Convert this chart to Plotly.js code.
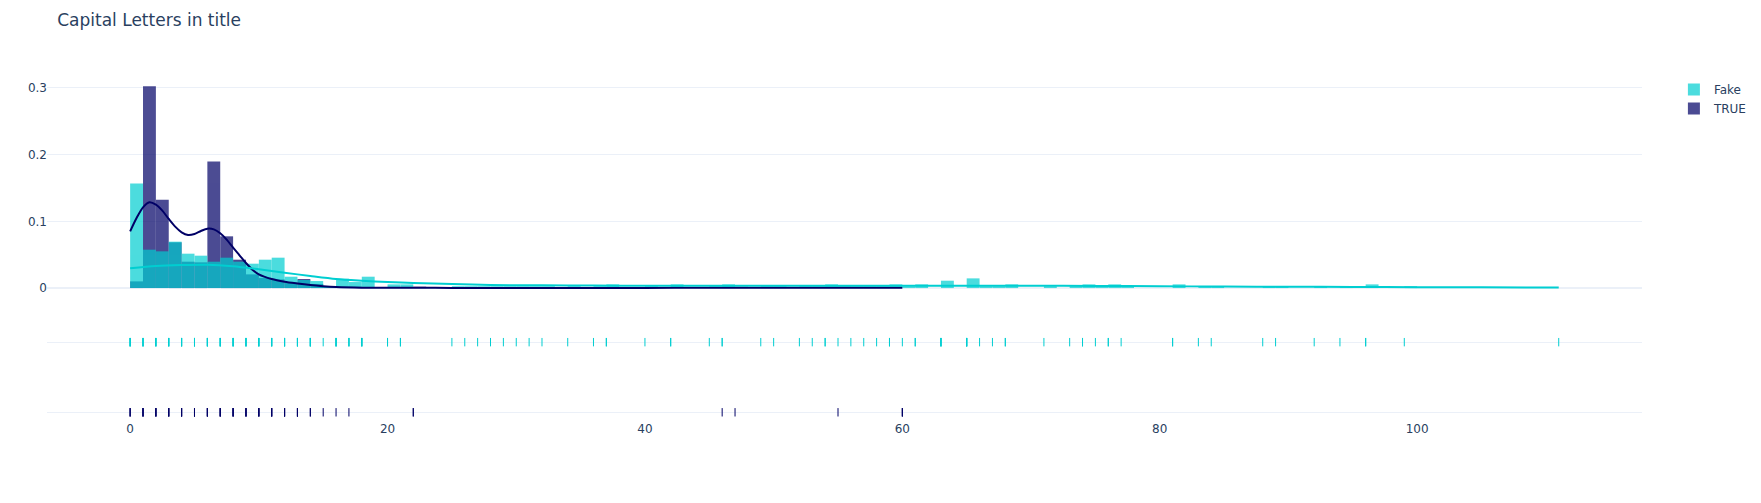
<!DOCTYPE html>
<html>
<head>
<meta charset="utf-8">
<script src="https://cdn.plot.ly/plotly-3.0.1.min.js"></script>
<style>html,body{margin:0;padding:0;background:#fff;}#chart{width:1761px;height:503px;}</style>
</head>
<body>
<div id="chart"></div>
<script>
// Group labels (legend is drawn reversed, so Fake shows first)
const groupLabels = ['TRUE', 'Fake'];

// Histogram bins (bin start, bin size 1) and probability densities
const trueBins = [0,1,2,3,4,5,6,7,8,9,10,11,12,13,14,15,16,17,22,46,47,55];
const trueDensity = [0.010,0.3025,0.1325,0.0685,0.0395,0.0385,0.1895,0.0775,0.0425,0.0205,0.015,0.013,0.008,0.0135,0.006,0.003,0.002,0.002,0.002,0.002,0.002,0.002];

const fakeBins = [0,1,2,3,4,5,6,7,8,9,10,11,12,13,14,15,16,17,18,20,21,25,26,27,28,29,30,31,32,34,36,37,40,42,45,46,49,50,52,53,54,55,56,57,58,59,60,61,63,65,66,67,68,71,73,74,75,76,77,81,83,84,88,89,92,94,96,99];
const fakeDensity = [0.1565,0.0575,0.055,0.0695,0.0515,0.0485,0.0395,0.0455,0.0395,0.0365,0.0425,0.0455,0.017,0.012,0.0105,0.003,0.014,0.009,0.017,0.0055,0.0055,0.00275,0.00275,0.00275,0.00275,0.00275,0.00275,0.00275,0.00275,0.00275,0.00275,0.0055,0.00275,0.0055,0.00275,0.0055,0.00275,0.00275,0.00275,0.00275,0.0055,0.00275,0.00275,0.00275,0.00275,0.0055,0.00275,0.0055,0.011,0.0145,0.00275,0.00275,0.0055,0.00275,0.00275,0.0055,0.00275,0.0055,0.00275,0.0055,0.00275,0.00275,0.00275,0.00275,0.00275,0.00275,0.0055,0.00275];

// KDE curves
const trueKdeX = [0,0.5,1,1.5,2,2.5,3,3.5,4,4.5,5,5.5,6,6.5,7,7.5,8,8.5,9,9.5,10,11,12,13,14,15,16,18,20,22,25,30,35,40,45,47,50,55,60];
const trueKdeY = [0.085,0.105,0.121,0.1285,0.125,0.116,0.1035,0.092,0.0835,0.0795,0.081,0.0855,0.089,0.088,0.082,0.0725,0.0605,0.049,0.0375,0.0275,0.0205,0.0135,0.0095,0.0068,0.0045,0.0028,0.0016,0.0006,0.0004,0.0005,0.0002,0.0001,0.0001,0.0002,0.0006,0.0006,0.0003,0.0004,0.0003];
const fakeKdeX = [0,2,4,6,8,10,12,14,16,18,20,22,25,28,32,36,40,45,50,55,60,65,70,75,80,85,90,95,100,105,111];
const fakeKdeY = [0.0295,0.033,0.0345,0.035,0.0325,0.028,0.023,0.018,0.0135,0.011,0.009,0.0075,0.006,0.0045,0.004,0.0037,0.0035,0.0034,0.0034,0.0035,0.0036,0.0036,0.0034,0.0031,0.0027,0.0023,0.0019,0.0016,0.0013,0.001,0.0008];

// Rug observations (repeated values overlap and draw darker)
const trueRug = [0,0,0,1,1,1,1,2,2,2,2,3,3,3,3,4,4,4,4,5,5,5,5,6,6,6,6,7,7,7,7,8,8,8,8,9,9,9,9,10,10,10,10,11,11,11,11,12,12,12,12,13,13,13,13,14,14,15,16,17,22,22,46,47,55,60,60,60];
const fakeRug = [0,0,0,0,1,1,1,1,2,2,2,2,3,3,3,3,4,4,4,4,5,5,5,5,6,6,6,6,7,7,7,7,8,8,8,8,9,9,9,9,10,10,10,10,11,11,11,11,12,12,12,12,13,13,13,13,14,14,14,14,15,16,16,16,16,17,17,17,18,18,18,18,20,20,21,21,25,26,27,28,29,30,31,32,34,36,37,37,40,42,42,45,46,46,49,50,52,53,54,54,55,56,57,58,59,59,60,61,61,63,63,63,63,65,65,65,65,65,66,67,68,68,71,73,74,74,75,76,76,77,81,81,83,84,88,89,92,94,96,96,99,111];

const colors = {TRUE: 'rgb(0,0,102)', Fake: 'rgb(0,206,209)'};

function hist(name, bins, dens) {
  return {type: 'bar', name: name, legendgroup: name, x: bins, y: dens,
    offset: 0, width: 1, opacity: 0.7, xaxis: 'x', yaxis: 'y',
    marker: {color: colors[name], line: {width: 0}}, showlegend: true};
}
function kde(name, xs, ys) {
  return {type: 'scatter', mode: 'lines', name: name, legendgroup: name, x: xs, y: ys,
    line: {color: colors[name], width: 2, shape: 'spline', smoothing: 0.8},
    xaxis: 'x', yaxis: 'y', showlegend: false};
}
function rug(name, xs) {
  return {type: 'scatter', mode: 'markers', name: name, legendgroup: name, x: xs,
    y: xs.map(() => name),
    marker: {color: colors[name], symbol: 'line-ns-open', size: 6},
    xaxis: 'x', yaxis: 'y2', showlegend: false};
}

const data = [
  hist('TRUE', trueBins, trueDensity),
  hist('Fake', fakeBins, fakeDensity),
  kde('TRUE', trueKdeX, trueKdeY),
  kde('Fake', fakeKdeX, fakeKdeY),
  rug('TRUE', trueRug),
  rug('Fake', fakeRug)
];

const gridc = '#EBF0F8';
const layout = {
  width: 1761, height: 503,
  font: {family: 'Verdana, "DejaVu Sans", sans-serif', size: 12, color: '#2a3f5f'},
  paper_bgcolor: '#fff', plot_bgcolor: '#fff',
  title: {text: 'Capital Letters in title', x: 0.0325, xanchor: 'left', xref: 'container',
          y: 0.960, yanchor: 'middle', yref: 'container', font: {size: 17, color: '#2a3f5f'}},
  margin: {l: 47, r: 119, t: 75, b: 83, autoexpand: false},
  barmode: 'overlay', hovermode: 'closest',
  legend: {traceorder: 'reversed', x: 1.02, y: 1, font: {size: 12}},
  xaxis: {domain: [0, 1], anchor: 'y2', zeroline: false, showgrid: false,
          range: [-6.46, 117.47], tickvals: [0,20,40,60,80,100], automargin: false,
          showline: false, ticks: ''},
  yaxis: {domain: [0.35, 1], anchor: 'free', position: 0, range: [-0.0168, 0.3193],
          tickvals: [0, 0.1, 0.2, 0.3], ticktext: ['0','0.1','0.2','0.3'],
          gridcolor: gridc, zeroline: true, zerolinecolor: gridc, zerolinewidth: 2,
          automargin: false, ticks: ''},
  yaxis2: {domain: [0, 0.25], anchor: 'x', dtick: 1, showticklabels: false,
           range: [-0.11, 1.12], gridcolor: gridc, zeroline: false, automargin: false,
           categoryorder: 'array', categoryarray: groupLabels}
};

Plotly.newPlot('chart', data, layout, {displayModeBar: false, staticPlot: true});
</script>
</body>
</html>
